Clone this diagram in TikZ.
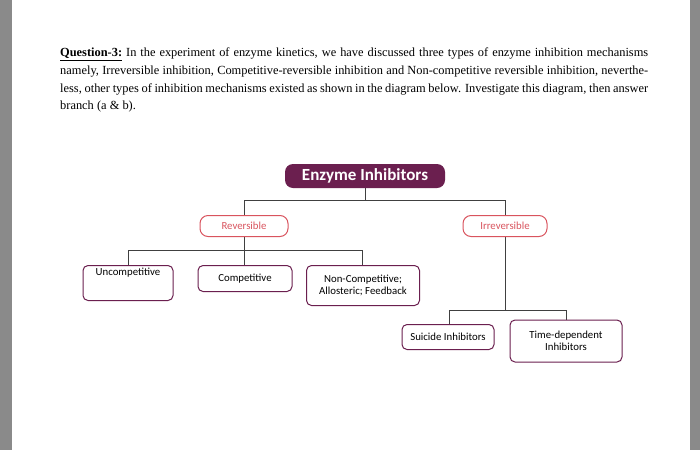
\documentclass[tikz,border=0pt]{standalone}
\usepackage{fontspec}
\setmainfont{Liberation Serif}
\newfontfamily\diag{Carlito}
\definecolor{plum}{HTML}{6B1F4F}
\definecolor{rosy}{HTML}{D9545E}
\definecolor{pagegray}{HTML}{8A8A8A}
\begin{document}
\begin{tikzpicture}[x=1pt,y=-1pt,
  box/.style={draw=plum,line width=1pt,rounded corners=5pt,fill=white,font=\diag\fontsize{10.8}{12}\selectfont,align=center,inner sep=2pt},
  redbox/.style={box,draw=rosy,text=rosy,rounded corners=8pt},
  conn/.style={draw=black!75,line width=0.6pt}]
\fill[pagegray] (0,0) rectangle (700,450);
\fill[white] (12,0) rectangle (690,450);
\useasboundingbox (0,0) rectangle (700,450);
\node[anchor=north west,text width=588pt,align=justify,inner sep=0pt,font=\fontsize{12.4}{17.6}\selectfont] (q) at (60,48)
{\hyphenpenalty=10000 \exhyphenpenalty=10000 \relax\textbf{\underline{Question-3:}} In the experiment of enzyme kinetics, we have discussed three types of enzyme inhibition mechanisms namely, Irreversible inhibition, Competitive-reversible inhibition and Non-competitive reversible inhibition, nevertheless, other types of inhibition mechanisms existed as shown in the diagram below. Investigate this diagram, then answer branch (a \& b).};
\coordinate (t1) at (365,200);
\coordinate (t2) at (244,200);
\coordinate (t3) at (505,200);
\coordinate (r1) at (244,250);
\coordinate (r2) at (128,250);
\coordinate (r3) at (362,250);
\coordinate (i1) at (505,310);
\coordinate (i2) at (449,310);
\coordinate (i3) at (566,310);
\draw[conn] (365,176) -- (t1);
\draw[conn] (t2) -- (t3);
\draw[conn] (t2) -- (244,226);
\draw[conn] (t3) -- (505,226);
\draw[conn] (244,226) -- (r1);
\draw[conn] (r2) -- (r3);
\draw[conn] (r2) -- (128,282);
\draw[conn] (r1) -- (244,282);
\draw[conn] (r3) -- (362,285);
\draw[conn] (505,226) -- (i1);
\draw[conn] (i2) -- (i3);
\draw[conn] (i2) -- (449,337);
\draw[conn] (i3) -- (566,341);
\node[fill=plum,text=white,rounded corners=8pt,minimum width=160pt,minimum height=24pt,font=\diag\bfseries\fontsize{17}{19}\selectfont] (ei) at (365,176) {Enzyme Inhibitors};
\node[redbox,minimum width=88pt,minimum height=21pt] (rev) at (244,226) {Reversible};
\node[redbox,minimum width=84pt,minimum height=21pt] (irr) at (505,226) {Irreversible};
\node[box,minimum width=90pt,minimum height=35pt,anchor=north] (unc) at (128,265) {Uncompetitive\\[10pt]};
\node[box,minimum width=94pt,minimum height=26pt,anchor=north] (com) at (245,265) {Competitive};
\node[box,minimum width=113pt,minimum height=40pt,anchor=north] (non) at (363,265) {Non-Competitive;\\Allosteric; Feedback};
\node[box,minimum width=92pt,minimum height=25pt] (sui) at (448,337) {Suicide Inhibitors};
\node[box,minimum width=112pt,minimum height=42pt] (tim) at (566,341) {Time-dependent\\Inhibitors};
\end{tikzpicture}
\end{document}
